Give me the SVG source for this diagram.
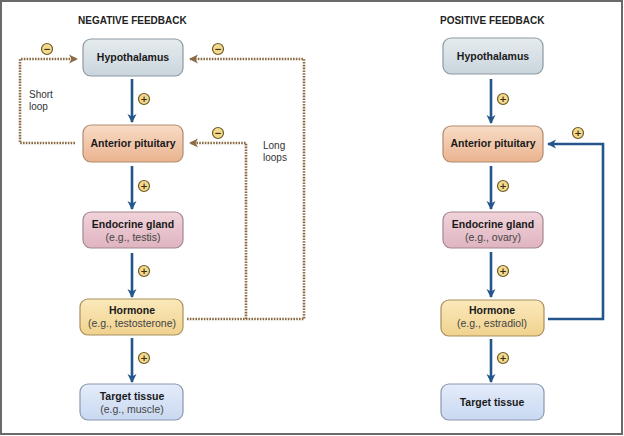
<svg xmlns="http://www.w3.org/2000/svg" width="624" height="436" viewBox="0 0 624 436">
<defs>
<linearGradient id="gHyp" x1="0" y1="0" x2="0" y2="1"><stop offset="0" stop-color="#e6ecef"/><stop offset="1" stop-color="#c9d5dc"/></linearGradient>
<linearGradient id="gAP" x1="0" y1="0" x2="0" y2="1"><stop offset="0" stop-color="#f8dcc6"/><stop offset="1" stop-color="#eab38f"/></linearGradient>
<linearGradient id="gEG" x1="0" y1="0" x2="0" y2="1"><stop offset="0" stop-color="#f1d3da"/><stop offset="1" stop-color="#dfb4c0"/></linearGradient>
<linearGradient id="gHor" x1="0" y1="0" x2="0" y2="1"><stop offset="0" stop-color="#fbe9bb"/><stop offset="1" stop-color="#f0d28e"/></linearGradient>
<linearGradient id="gTT" x1="0" y1="0" x2="0" y2="1"><stop offset="0" stop-color="#e4ecfa"/><stop offset="1" stop-color="#c9d8f1"/></linearGradient>
<marker id="ab" markerWidth="10" markerHeight="10" refX="8" refY="5" orient="auto" markerUnits="userSpaceOnUse"><path d="M0,0.5 L9,5 L0,9.5 L2.5,5 Z" fill="#24568c"/></marker>
<marker id="ad" markerWidth="10" markerHeight="10" refX="8" refY="5" orient="auto" markerUnits="userSpaceOnUse"><path d="M0,0.5 L9,5 L0,9.5 L2.5,5 Z" fill="#8a6a42"/></marker>
</defs>
<style>
.title{font-family:"Liberation Sans",Arial,sans-serif;font-weight:bold;font-size:10px;fill:#222}
.lbl{font-family:"Liberation Sans",Arial,sans-serif;font-weight:bold;font-size:10.5px;fill:#1a1a1a;text-anchor:middle}
.sub{font-family:"Liberation Sans",Arial,sans-serif;font-size:10.5px;fill:#444;text-anchor:middle}
.note{font-family:"Liberation Sans",Arial,sans-serif;font-size:10px;fill:#333}
.box{stroke-width:1.2}
.blue{stroke:#24568c;stroke-width:2.6;fill:none}
.dot{stroke:#8a6a42;stroke-width:2.6;fill:none;stroke-dasharray:1.6 1.2}
.sym circle{fill:#f3d98c;stroke:#6e5a28;stroke-width:1.2}
.sym text{font-family:"DejaVu Sans",sans-serif;font-weight:bold;font-size:9px;fill:#3a2e10;text-anchor:middle}
</style>
<rect x="1" y="1" width="621" height="433" fill="#ffffff" stroke="#6a6a6a" stroke-width="2"/>

<text class="title" x="78" y="24">NEGATIVE FEEDBACK</text>
<text class="title" x="440" y="24">POSITIVE FEEDBACK</text>

<g id="connectors">
<!-- negative blue arrows -->
<line class="blue" x1="132" y1="79" x2="132" y2="122" marker-end="url(#ab)"/>
<line class="blue" x1="132" y1="166" x2="132" y2="209" marker-end="url(#ab)"/>
<line class="blue" x1="132" y1="253" x2="132" y2="297" marker-end="url(#ab)"/>
<line class="blue" x1="132" y1="338" x2="132" y2="382" marker-end="url(#ab)"/>
<!-- positive blue arrows -->
<line class="blue" x1="491" y1="79" x2="491" y2="123" marker-end="url(#ab)"/>
<line class="blue" x1="491" y1="166" x2="491" y2="209" marker-end="url(#ab)"/>
<line class="blue" x1="491" y1="252" x2="491" y2="297" marker-end="url(#ab)"/>
<line class="blue" x1="491" y1="339" x2="491" y2="382" marker-end="url(#ab)"/>
<polyline class="blue" points="548,319 603,319 603,144 548,144" marker-end="url(#ab)"/>
<!-- dotted feedback -->
<polyline class="dot" points="75,143 20,143 20,59 77,59" marker-end="url(#ad)"/>
<polyline class="dot" points="187,319 304,319 304,59 190,59" marker-end="url(#ad)"/>
<polyline class="dot" points="246,319 246,143 190,143" marker-end="url(#ad)"/>
</g>

<g id="signs">
<g class="sym"><circle cx="144" cy="99" r="5.5"/><text x="144" y="102.3">+</text></g>
<g class="sym"><circle cx="144" cy="186" r="5.5"/><text x="144" y="189.3">+</text></g>
<g class="sym"><circle cx="144" cy="271" r="5.5"/><text x="144" y="274.3">+</text></g>
<g class="sym"><circle cx="144" cy="358" r="5.5"/><text x="144" y="361.3">+</text></g>
<g class="sym"><circle cx="47" cy="49" r="5.5"/><text x="47" y="52.3">−</text></g>
<g class="sym"><circle cx="218" cy="49" r="5.5"/><text x="218" y="52.3">−</text></g>
<g class="sym"><circle cx="218" cy="133" r="5.5"/><text x="218" y="136.3">−</text></g>
<g class="sym"><circle cx="503" cy="99" r="5.5"/><text x="503" y="102.3">+</text></g>
<g class="sym"><circle cx="503" cy="186" r="5.5"/><text x="503" y="189.3">+</text></g>
<g class="sym"><circle cx="503" cy="271" r="5.5"/><text x="503" y="274.3">+</text></g>
<g class="sym"><circle cx="503" cy="358" r="5.5"/><text x="503" y="361.3">+</text></g>
<g class="sym"><circle cx="578" cy="133" r="5.5"/><text x="578" y="136.3">+</text></g>
</g>

<text class="note" x="29" y="98">Short</text>
<text class="note" x="29" y="110">loop</text>
<text class="note" x="263" y="149">Long</text>
<text class="note" x="263" y="161">loops</text>

<g id="n-hyp">
<rect class="box" x="83" y="39" width="100" height="37" rx="8" fill="url(#gHyp)" stroke="#8c9aa4"/>
<text class="lbl" x="133" y="61">Hypothalamus</text>
</g>
<g id="n-ap">
<rect class="box" x="83" y="125" width="100" height="37" rx="8" fill="url(#gAP)" stroke="#b18b70"/>
<text class="lbl" x="133" y="147">Anterior pituitary</text>
</g>
<g id="n-eg">
<rect class="box" x="83" y="212" width="100" height="36" rx="8" fill="url(#gEG)" stroke="#a3878f"/>
<text class="lbl" x="133" y="228">Endocrine gland</text>
<text class="sub" x="133" y="241">(e.g., testis)</text>
</g>
<g id="n-hor">
<rect class="box" x="80" y="299" width="103" height="36" rx="8" fill="url(#gHor)" stroke="#a88f5e"/>
<text class="lbl" x="132" y="314">Hormone</text>
<text class="sub" x="132" y="327">(e.g., testosterone)</text>
</g>
<g id="n-tt">
<rect class="box" x="80" y="384" width="103" height="36" rx="8" fill="url(#gTT)" stroke="#8a98ae"/>
<text class="lbl" x="132" y="400">Target tissue</text>
<text class="sub" x="132" y="413">(e.g., muscle)</text>
</g>

<g id="p-hyp">
<rect class="box" x="443" y="38" width="100" height="36" rx="8" fill="url(#gHyp)" stroke="#8c9aa4"/>
<text class="lbl" x="493" y="60">Hypothalamus</text>
</g>
<g id="p-ap">
<rect class="box" x="443" y="126" width="100" height="36" rx="8" fill="url(#gAP)" stroke="#b18b70"/>
<text class="lbl" x="493" y="147">Anterior pituitary</text>
</g>
<g id="p-eg">
<rect class="box" x="443" y="212" width="100" height="36" rx="8" fill="url(#gEG)" stroke="#a3878f"/>
<text class="lbl" x="493" y="228">Endocrine gland</text>
<text class="sub" x="493" y="241">(e.g., ovary)</text>
</g>
<g id="p-hor">
<rect class="box" x="441" y="300" width="103" height="36" rx="8" fill="url(#gHor)" stroke="#a88f5e"/>
<text class="lbl" x="492" y="314">Hormone</text>
<text class="sub" x="492" y="327">(e.g., estradiol)</text>
</g>
<g id="p-tt">
<rect class="box" x="441" y="384" width="103" height="36" rx="8" fill="url(#gTT)" stroke="#8a98ae"/>
<text class="lbl" x="492" y="406">Target tissue</text>
</g>
</svg>
